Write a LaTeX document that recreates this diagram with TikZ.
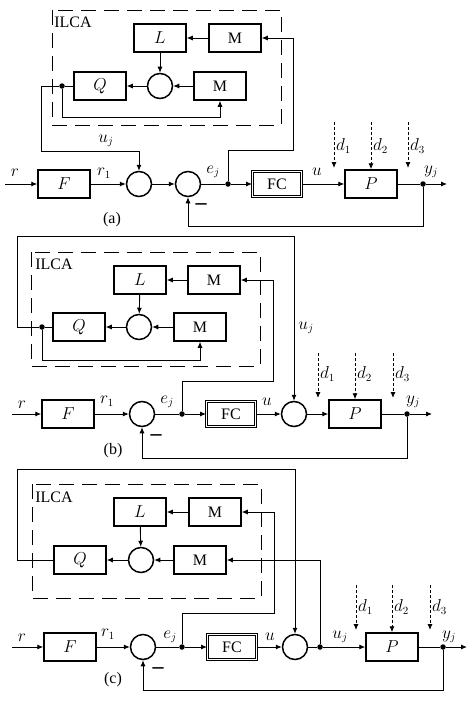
\documentclass[tikz,border=0pt]{standalone}
\usepackage{fontspec}
\setmainfont{Liberation Serif}
\usetikzlibrary{arrows.meta}

\begin{document}
\begin{tikzpicture}[x=1pt, y=-1pt,
    font=\fontsize{16}{18}\selectfont,
    block/.style={draw, line width=1.5pt, minimum width=52pt, minimum height=28pt, inner sep=0pt},
    fcblock/.style={draw, double, line width=1pt, double distance=1.6pt,
                    minimum width=49pt, minimum height=25pt, inner sep=0pt},
    summer/.style={draw, circle, line width=1.5pt, minimum size=25pt, inner sep=0pt},
    junc/.style={circle, fill, inner sep=0pt, minimum size=5.5pt},
    wire/.style={line width=0.9pt},
    sig/.style={-{Latex[length=6pt,width=5pt]}, line width=0.9pt},
    dist/.style={sig, dash pattern=on 3pt off 2pt},
    ilcabox/.style={draw, line width=0.9pt, dash pattern=on 15pt off 8pt},
    lbl/.style={inner sep=1pt},
    neg/.style={inner sep=0pt, font=\fontsize{22}{22}\selectfont\bfseries}]
  \useasboundingbox (0,0) rectangle (474,701);

  % ---------- (a) ----------
  \draw[ilcabox] (52,10) rectangle (281,125);
  \node[lbl] (ailca) at (73,22) {ILCA};
  \node[block] (aL) at (160,38) {$L$};
  \node[block] (aMt) at (235,38) {M};
  \node[summer] (aSi) at (160,86) {};
  \node[block] (aQ) at (100,86) {$Q$};
  \node[block] (aMb) at (220,86) {M};
  \node[junc] (aqd) at (62,86) {};

  \coordinate (ain) at (5,184);
  \node[block] (aF) at (64,184) {$F$};
  \node[summer] (aS1) at (139,184) {};
  \node[summer] (aS2) at (188,184) {};
  \node[junc] (adot) at (228,184) {};
  \node[fcblock] (aFC) at (277,184) {FC};
  \node[block] (aP) at (371,184) {$P$};
  \node[junc] (aydot) at (423,184) {};
  \coordinate (aout) at (447,184);

  \draw[sig] (ain) -- (aF);
  \draw[sig] (aF) -- (aS1);
  \draw[sig] (aS1) -- (aS2);
  \draw[wire] (aS2) -- (adot);
  \draw[sig] (adot) -- (aFC);
  \draw[sig] (aFC) -- (aP);
  \draw[wire] (aP) -- (aydot);
  \draw[sig] (aydot) -- (aout);
  \draw[sig] (aydot) |- (188,226) -- (aS2);
  \draw[sig] (adot) |- (293,150) |- (aMt);
  \draw[sig] (aMt) -- (aL);
  \draw[sig] (aL) -- (aSi);
  \draw[sig] (aMb) -- (aSi);
  \draw[sig] (aSi) -- (aQ);
  \draw[wire] (aQ) -- (aqd);
  \draw[sig] (aqd) -- (41,86) |- (139,151) -- (aS1);
  \draw[sig] (aqd) |- (220,117) -- (aMb);
  \foreach \x/\i in {334/1,408/3} {
    \coordinate (ad\i) at (\x,122);
    \draw[dist] (ad\i) -- (\x,168);
  }
  \coordinate (ad2) at (371,122);
  \draw[dist] (ad2) -- (aP);
  \foreach \x/\i in {334/1,371/2,408/3}
    \node[lbl, anchor=west] (adl\i) at (\x+1,146) {$d_\i$};

  \node[lbl] (ar) at (15,173) {$r$};
  \node[lbl] (ar1) at (104,173) {$r_1$};
  \node[lbl] (aej) at (213,172) {$e_j$};
  \node[lbl] (au) at (317,172) {$u$};
  \node[lbl] (ayj) at (431,172) {$y_j$};
  \node[lbl] (auj) at (106,141) {$u_j$};
  \node[neg] (aneg) at (201,207) {–};
  \node[lbl] (acap) at (112,220) {(a)};

  % ---------- (b) ----------
  \draw[ilcabox] (31,252) rectangle (260,366);
  \node[lbl] (bilca) at (54,264) {ILCA};
  \node[block] (bL) at (140,280) {$L$};
  \node[block] (bMt) at (214,280) {M};
  \node[summer] (bSi) at (139,327) {};
  \node[block] (bQ) at (79,327) {$Q$};
  \node[block] (bMb) at (200,327) {M};
  \node[junc] (bqd) at (42,327) {};

  \coordinate (bin) at (12,414);
  \node[block] (bF) at (68,414) {$F$};
  \node[summer] (bS1) at (142,414) {};
  \node[junc] (bdot) at (182,414) {};
  \node[fcblock] (bFC) at (231,414) {FC};
  \node[summer] (bS3) at (294,414) {};
  \node[block] (bP) at (355,414) {$P$};
  \node[junc] (bydot) at (407,414) {};
  \coordinate (bout) at (432,414);

  \draw[sig] (bin) -- (bF);
  \draw[sig] (bF) -- (bS1);
  \draw[wire] (bS1) -- (bdot);
  \draw[sig] (bdot) -- (bFC);
  \draw[sig] (bFC) -- (bS3);
  \draw[sig] (bS3) -- (bP);
  \draw[wire] (bP) -- (bydot);
  \draw[sig] (bydot) -- (bout);
  \draw[sig] (bydot) |- (142,458) -- (bS1);
  \draw[sig] (bdot) |- (273,381) |- (bMt);
  \draw[sig] (bMt) -- (bL);
  \draw[sig] (bL) -- (bSi);
  \draw[sig] (bMb) -- (bSi);
  \draw[sig] (bSi) -- (bQ);
  \draw[wire] (bQ) -- (bqd);
  \draw[sig] (bqd) |- (200,360) -- (bMb);
  \draw[sig] (bqd) -- (17,327) |- (294,236) -- (bS3);
  \foreach \x/\i in {318/1,393/3} {
    \coordinate (bd\i) at (\x,353);
    \draw[dist] (bd\i) -- (\x,398);
  }
  \coordinate (bd2) at (355,353);
  \draw[dist] (bd2) -- (bP);
  \foreach \x/\i in {318/1,355/2,393/3}
    \node[lbl, anchor=west] (bdl\i) at (\x+1,374) {$d_\i$};

  \node[lbl] (br) at (22,405) {$r$};
  \node[lbl] (br1) at (107,401) {$r_1$};
  \node[lbl] (bej) at (167,402) {$e_j$};
  \node[lbl] (bu) at (267,402) {$u$};
  \node[lbl] (byj) at (413,402) {$y_j$};
  \node[lbl] (buj) at (306,328) {$u_j$};
  \node[neg] (bneg) at (156,438) {–};
  \node[lbl] (bcap) at (113,451) {(b)};

  % ---------- (c) ----------
  \draw[ilcabox] (32,484) rectangle (261,598);
  \node[lbl] (cilca) at (54,497) {ILCA};
  \node[block] (cL) at (140,512) {$L$};
  \node[block] (cMt) at (215,512) {M};
  \node[summer] (cSi) at (141,560) {};
  \node[block] (cQ) at (80,560) {$Q$};
  \node[block] (cMb) at (200,560) {M};

  \coordinate (cin) at (12,647);
  \node[block] (cF) at (70,647) {$F$};
  \node[summer] (cS1) at (143,647) {};
  \node[junc] (cdot) at (182,647) {};
  \node[fcblock] (cFC) at (232,647) {FC};
  \node[summer] (cS3) at (295,647) {};
  \node[junc] (cudot) at (320,647) {};
  \node[block] (cP) at (392,647) {$P$};
  \node[junc] (cydot) at (443,647) {};
  \coordinate (cout) at (467,647);

  \draw[sig] (cin) -- (cF);
  \draw[sig] (cF) -- (cS1);
  \draw[wire] (cS1) -- (cdot);
  \draw[sig] (cdot) -- (cFC);
  \draw[sig] (cFC) -- (cS3);
  \draw[wire] (cS3) -- (cudot);
  \draw[sig] (cudot) -- (cP);
  \draw[wire] (cP) -- (cydot);
  \draw[sig] (cydot) -- (cout);
  \draw[sig] (cydot) |- (143,690) -- (cS1);
  \draw[sig] (cdot) |- (274,613) |- (cMt);
  \draw[sig] (cudot) |- (cMb);
  \draw[sig] (cMt) -- (cL);
  \draw[sig] (cL) -- (cSi);
  \draw[sig] (cMb) -- (cSi);
  \draw[sig] (cSi) -- (cQ);
  \draw[sig] (cQ) -- (17,560) |- (295,469) -- (cS3);
  \foreach \x/\i in {356/1,430/3} {
    \coordinate (cd\i) at (\x,585);
    \draw[dist] (cd\i) -- (\x,630);
  }
  \coordinate (cd2) at (392,585);
  \draw[dist] (cd2) -- (cP);
  \foreach \x/\i in {356/1,392/2,430/3}
    \node[lbl, anchor=west] (cdl\i) at (\x+1,607) {$d_\i$};

  \node[lbl] (cr) at (22,638) {$r$};
  \node[lbl] (cr1) at (108,634) {$r_1$};
  \node[lbl] (cej) at (170,637) {$e_j$};
  \node[lbl] (cu) at (270,637) {$u$};
  \node[lbl] (cuj) at (340,637) {$u_j$};
  \node[lbl] (cyj) at (449,637) {$y_j$};
  \node[neg] (cneg) at (158,671) {–};
  \node[lbl] (ccap) at (113,680) {(c)};
\end{tikzpicture}
\end{document}
